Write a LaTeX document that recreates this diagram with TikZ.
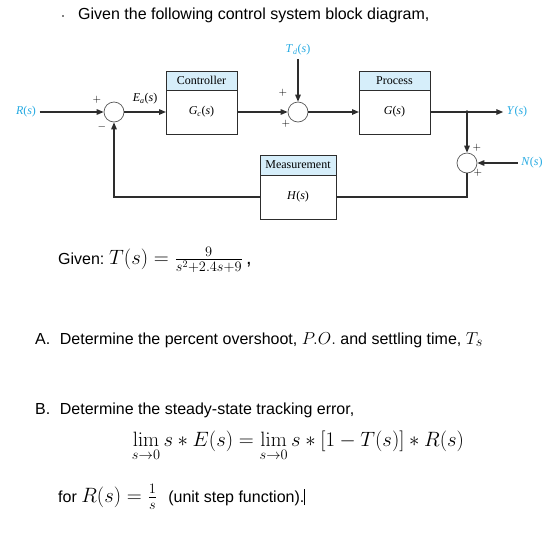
\documentclass[tikz,border=0pt]{standalone}
\usepackage{amsmath, amssymb}
\usepackage[no-math]{fontspec}
\setmainfont{Liberation Sans}
\newfontfamily\blockfont{Liberation Serif}
\usetikzlibrary{arrows.meta, positioning}
\definecolor{sigblue}{RGB}{38,170,226}
\definecolor{headblue}{RGB}{214,238,250}
\definecolor{wire}{RGB}{45,45,45}
\newcommand{\sigfn}[2]{\textit{#1}\textsubscript{\textit{#2}}(\textit{s})}
\newcommand{\plainfn}[1]{\textit{#1}(\textit{s})}
\newcommand{\bigmath}{\fontsize{19}{22}\selectfont}
\newcommand{\limmath}{\fontsize{20}{24}\selectfont}

\begin{document}
\begin{tikzpicture}[x=1pt, y=-1pt, >={Triangle[length=7pt, width=5.5pt]},
  every node/.style={font=\blockfont\fontsize{12}{14}\selectfont},
  txt/.style={anchor=west, inner sep=0pt, font=\fontsize{16}{19}\selectfont},
  head/.style={draw=wire, line width=1pt, fill=headblue, outer sep=0pt, inner sep=0pt, minimum width=#1, minimum height=19pt},
  body/.style={draw=wire, line width=1pt, outer sep=0pt, inner sep=0pt, minimum width=#1, minimum height=44pt},
  sum/.style={circle, draw=wire!80, line width=0.7pt, minimum size=20pt, inner sep=0pt},
  sign/.style={inner sep=0pt, font=\blockfont\fontsize{11}{12}\selectfont},
  label/.style={text=sigblue},
  sig/.style={->, draw=wire, line width=1.4pt},
  line/.style={draw=wire, line width=1.4pt}]
  \useasboundingbox (0,0) rectangle (558,542);

  \fill (63,16) circle (0.8);
  \node[txt] (intro) at (78,15) {Given the following control system block diagram,};

  \node[label] (R) at (26,112) {\plainfn{R}};
  \node[sum] (sumR) at (114,112) {};
  \node[head=71pt] (ctrlhead) at (201.5,80.5) {Controller};
  \node[body=71pt, below=0pt of ctrlhead] (ctrl) {\sigfn{G}{c}};
  \node[label] (Td) at (298,50) {\sigfn{T}{d}};
  \node[sum] (sumD) at (298,112) {};
  \node[head=71pt] (prochead) at (394.5,80.5) {Process};
  \node[body=71pt, below=0pt of prochead] (proc) {\plainfn{G}};
  \node[label] (Y) at (517,112) {\plainfn{Y}};
  \coordinate (brk) at (467,112);
  \node[sum] (sumN) at (467,163) {};
  \node[label] (N) at (532,163) {\plainfn{N}};
  \node[head=76pt, minimum height=20pt] (meashead) at (298,165) {Measurement};
  \node[body=76pt, below=0pt of meashead] (meas) {\plainfn{H}};

  \node at (145,99) {\sigfn{E}{a}};
  \node[sign] at (97,100) {$+$};
  \node[sign] at (102,127) {$-$};
  \node[sign] at (283,93) {$+$};
  \node[sign] at (286,124) {$+$};
  \node[sign] at (477,148) {$+$};
  \node[sign] at (478,173) {$+$};

  \draw[sig] (R) -- (sumR);
  \draw[sig] (sumR) -- (ctrl);
  \draw[sig] (ctrl) -- (sumD);
  \draw[sig] (Td) -- (sumD);
  \draw[sig] (sumD) -- (proc);
  \draw[sig] (proc) -- (Y);
  \fill[wire] (brk) circle (1.8);
  \draw[sig] (brk) -- (sumN);
  \draw[sig] (N) -- (sumN);
  \draw[line] (sumN) |- (meas);
  \draw[sig] (meas) -| (sumR);

  \node[txt] (given) at (58,260) {Given:\hspace{0.3em}{\limmath$T(s)=\frac{9}{s^2+2.4s+9}$\,,}};
  \node[txt] (partA) at (35,340) {A.\hspace{0.6em}Determine the percent overshoot, {\bigmath$P.O.$} and settling time, {\bigmath$T_s$}};
  \node[txt] (partB) at (35,410) {B.\hspace{0.6em}Determine the steady-state tracking error,};
  \node[inner sep=0pt, font=\limmath] (limit) at (298,446) {$\displaystyle\lim_{s\to0} s*E(s)=\lim_{s\to0} s*[1-T(s)]*R(s)$};
  \node[txt] (stepin) at (58,497) {for {\limmath$R(s)=\frac{1}{s}$}\hspace{0.7em}(unit step function).\rule[-3pt]{0.7pt}{16pt}};
\end{tikzpicture}
\end{document}
